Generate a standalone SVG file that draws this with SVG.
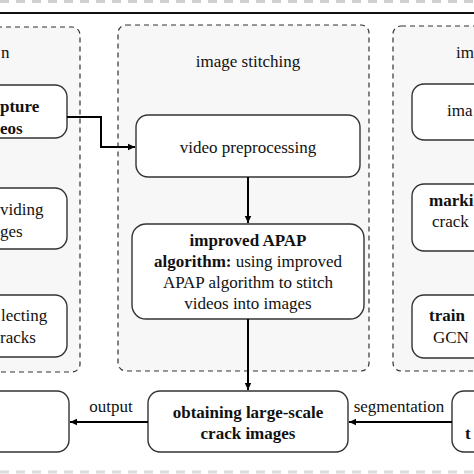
<svg xmlns="http://www.w3.org/2000/svg" width="474" height="474" viewBox="0 0 474 474">
<defs>
<marker id="ah" markerWidth="8" markerHeight="8" refX="7" refY="4" orient="auto" markerUnits="userSpaceOnUse">
<path d="M0,0.8 L7,4 L0,7.2 Z" fill="#000"/>
</marker>
<style>
text{font-family:"Liberation Serif","Times New Roman",serif;font-size:17px;fill:#111}
.b{font-weight:bold}
.m{text-anchor:middle}
.grp{fill:#f7f7f7;stroke:#333;stroke-width:1.2;stroke-dasharray:5 4}
.node{fill:#fff;stroke:#333;stroke-width:1.4}
.con{fill:none;stroke:#000;stroke-width:2}
</style>
</defs>
<rect width="474" height="474" fill="#fff"/>
<line x1="0" y1="1.5" x2="474" y2="1.5" stroke="#d0d0d0" stroke-width="3" stroke-dasharray="9 7"/>
<line x1="0" y1="13" x2="474" y2="13" stroke="#111" stroke-width="2"/>
<line x1="0" y1="472" x2="474" y2="472" stroke="#dcdcdc" stroke-width="3" stroke-dasharray="9 7"/>

<g id="group-left">
<rect class="grp" x="-20" y="27" width="100" height="345" rx="8"/>
<text x="1" y="58">n</text>
</g>
<g id="group-middle">
<rect class="grp" x="118" y="25" width="251" height="346" rx="8"/>
<text class="m" x="248" y="67">image stitching</text>
</g>
<g id="group-right">
<rect class="grp" x="393" y="26" width="100" height="345" rx="8"/>
<text x="456" y="58">im</text>
</g>

<g id="node-capture">
<rect class="node" x="-20" y="85" width="87" height="53" rx="12"/>
<text class="b" x="0" y="112">pture</text>
<text class="b" x="0" y="134">eos</text>
</g>
<g id="node-dividing">
<rect class="node" x="-20" y="188" width="87" height="61" rx="12"/>
<text x="0" y="215">viding</text>
<text x="0" y="237">ges</text>
</g>
<g id="node-collecting">
<rect class="node" x="-20" y="295" width="87" height="62" rx="12"/>
<text x="1" y="321">lecting</text>
<text x="0" y="343">racks</text>
</g>

<g id="node-video-preprocessing">
<rect class="node" x="136" y="115" width="224" height="62" rx="12"/>
<text class="m" x="248" y="153">video preprocessing</text>
</g>
<g id="node-apap">
<rect class="node" x="132" y="224" width="232" height="95" rx="14"/>
<text class="m b" x="248" y="246">improved APAP</text>
<text class="m" x="248" y="267"><tspan class="b">algorithm:</tspan> using improved</text>
<text class="m" x="248" y="288">APAP algorithm to stitch</text>
<text class="m" x="248" y="309">videos into images</text>
</g>

<g id="node-image">
<rect class="node" x="412" y="84" width="90" height="56" rx="12"/>
<text x="447" y="116">ima</text>
</g>
<g id="node-marking">
<rect class="node" x="412" y="184" width="90" height="67" rx="12"/>
<text class="b" x="429" y="206">marki</text>
<text x="432" y="227">crack</text>
</g>
<g id="node-training">
<rect class="node" x="412" y="295" width="90" height="63" rx="12"/>
<text class="b" x="429" y="321">train</text>
<text x="433" y="343">GCN</text>
</g>

<g id="node-obtaining">
<rect class="node" x="148" y="391" width="200" height="61" rx="12"/>
<text class="m b" x="248" y="418">obtaining large-scale</text>
<text class="m b" x="248" y="439">crack images</text>
</g>
<g id="node-output">
<rect class="node" x="-20" y="391" width="89" height="61" rx="12"/>
</g>
<g id="node-segment">
<rect class="node" x="452" y="391" width="60" height="61" rx="12"/>
<text class="b" x="465" y="439">t</text>
</g>

<g id="connectors">
<path class="con" d="M67,117 H101 V147 H135" marker-end="url(#ah)"/>
<path class="con" d="M248,177 V223" marker-end="url(#ah)"/>
<path class="con" d="M248,319 V390" marker-end="url(#ah)"/>
<path class="con" d="M148,422 H70" marker-end="url(#ah)"/>
<path class="con" d="M452,422 H349" marker-end="url(#ah)"/>
<text class="m" x="111" y="412">output</text>
<text class="m" x="399" y="412">segmentation</text>
</g>
</svg>
